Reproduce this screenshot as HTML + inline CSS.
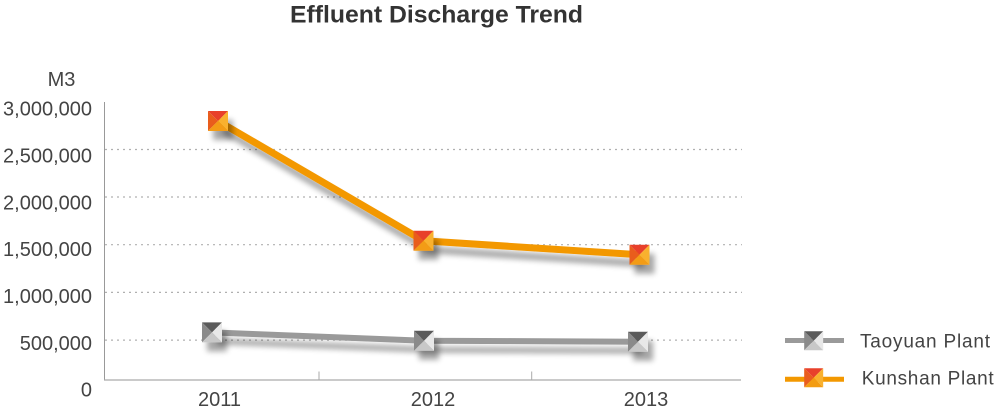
<!DOCTYPE html>
<html><head><meta charset="utf-8"><style>
html,body{margin:0;padding:0;background:#fff;}
svg{display:block;font-family:"Liberation Sans",Arial,sans-serif;}
</style></head><body>
<svg width="996" height="412" viewBox="0 0 996 412" xmlns="http://www.w3.org/2000/svg">
<defs>
<filter id="sh" x="-20%" y="-20%" width="140%" height="160%">
<feGaussianBlur in="SourceAlpha" stdDeviation="3"/>
<feOffset dx="5" dy="9" result="b"/>
<feComponentTransfer><feFuncA type="linear" slope="0.35"/></feComponentTransfer>
<feMerge><feMergeNode/><feMergeNode in="SourceGraphic"/></feMerge>
</filter>
</defs>
<text x="436.5" y="22.7" text-anchor="middle" font-size="24" font-weight="bold" fill="#333" textLength="293" lengthAdjust="spacingAndGlyphs">Effluent Discharge Trend</text>
<text x="61.5" y="86" text-anchor="middle" font-size="20" fill="#444">M3</text>
<g font-size="20" fill="#444" text-anchor="end">
<text x="92" y="115.7">3,000,000</text>
<text x="92" y="162.5">2,500,000</text>
<text x="92" y="209.3">2,000,000</text>
<text x="92" y="256.2">1,500,000</text>
<text x="92" y="303">1,000,000</text>
<text x="92" y="349.8">500,000</text>
<text x="92" y="396.7">0</text>
</g>
<g stroke="#b0b0b0" stroke-width="1.2" stroke-dasharray="2,4">
<line x1="105" y1="149.5" x2="742" y2="149.5"/>
<line x1="105" y1="197" x2="742" y2="197"/>
<line x1="105" y1="244.7" x2="742" y2="244.7"/>
<line x1="105" y1="292.4" x2="742" y2="292.4"/>
<line x1="105" y1="340.1" x2="742" y2="340.1"/>
</g>
<line x1="104.5" y1="102" x2="104.5" y2="380" stroke="#999" stroke-width="1"/>
<line x1="104" y1="380" x2="741" y2="380" stroke="#aaa" stroke-width="1.2"/>
<line x1="319" y1="371.5" x2="319" y2="380" stroke="#aaa" stroke-width="1"/>
<line x1="531.7" y1="371.5" x2="531.7" y2="380" stroke="#aaa" stroke-width="1"/>
<g font-size="20" fill="#444" text-anchor="middle">
<text x="219.5" y="406">2011</text>
<text x="433" y="406">2012</text>
<text x="646" y="406">2013</text>
</g>
<g filter="url(#sh)">
<polyline points="212,332.4 424,340.7 638,341.7" fill="none" stroke="#9a9a9a" stroke-width="6"/>
<polyline points="218,121 423.5,240.8 639.5,254.7" fill="none" stroke="#f39800" stroke-width="7"/>
</g>
<g filter="url(#sh)">
<g transform="translate(212,332.4)"><polygon points="-10,-10 10,-10 0,0" fill="#5a5a5a"/><polygon points="-10,-10 -10,10 0,0" fill="#8a8a8a"/><polygon points="10,-10 10,10 0,0" fill="#e8e8e8"/><polygon points="-10,10 10,10 0,0" fill="#c8c8c8"/></g>
<g transform="translate(424,340.7)"><polygon points="-10,-10 10,-10 0,0" fill="#5a5a5a"/><polygon points="-10,-10 -10,10 0,0" fill="#8a8a8a"/><polygon points="10,-10 10,10 0,0" fill="#e8e8e8"/><polygon points="-10,10 10,10 0,0" fill="#c8c8c8"/></g>
<g transform="translate(638,341.7)"><polygon points="-10,-10 10,-10 0,0" fill="#5a5a5a"/><polygon points="-10,-10 -10,10 0,0" fill="#8a8a8a"/><polygon points="10,-10 10,10 0,0" fill="#e8e8e8"/><polygon points="-10,10 10,10 0,0" fill="#c8c8c8"/></g>
<g transform="translate(218,121)"><polygon points="-10,-10 10,-10 0,0" fill="#e8412b"/><polygon points="-10,-10 -10,10 0,0" fill="#e95d1e"/><polygon points="10,-10 10,10 0,0" fill="#f9b12e"/><polygon points="-10,10 10,10 0,0" fill="#f39c12"/></g>
<g transform="translate(423.5,240.8)"><polygon points="-10,-10 10,-10 0,0" fill="#e8412b"/><polygon points="-10,-10 -10,10 0,0" fill="#e95d1e"/><polygon points="10,-10 10,10 0,0" fill="#f9b12e"/><polygon points="-10,10 10,10 0,0" fill="#f39c12"/></g>
<g transform="translate(639.5,254.7)"><polygon points="-10,-10 10,-10 0,0" fill="#e8412b"/><polygon points="-10,-10 -10,10 0,0" fill="#e95d1e"/><polygon points="10,-10 10,10 0,0" fill="#f9b12e"/><polygon points="-10,10 10,10 0,0" fill="#f39c12"/></g>
</g>
<line x1="785" y1="340.5" x2="844" y2="340.5" stroke="#9a9a9a" stroke-width="5"/>
<g transform="translate(813.7,340.8)"><polygon points="-9.5,-9.5 9.5,-9.5 0,0" fill="#5a5a5a"/><polygon points="-9.5,-9.5 -9.5,9.5 0,0" fill="#8a8a8a"/><polygon points="9.5,-9.5 9.5,9.5 0,0" fill="#e8e8e8"/><polygon points="-9.5,9.5 9.5,9.5 0,0" fill="#c8c8c8"/></g>
<line x1="785" y1="379.3" x2="844" y2="379.3" stroke="#f39800" stroke-width="5"/>
<g transform="translate(813.7,377.8)"><polygon points="-9.5,-9.5 9.5,-9.5 0,0" fill="#e8412b"/><polygon points="-9.5,-9.5 -9.5,9.5 0,0" fill="#e95d1e"/><polygon points="9.5,-9.5 9.5,9.5 0,0" fill="#f9b12e"/><polygon points="-9.5,9.5 9.5,9.5 0,0" fill="#f39c12"/></g>
<g font-size="19" fill="#444">
<text x="860" y="347.3" textLength="130" lengthAdjust="spacing">Taoyuan Plant</text>
<text x="861.7" y="384.5" textLength="132" lengthAdjust="spacing">Kunshan Plant</text>
</g>
</svg>
</body></html>
